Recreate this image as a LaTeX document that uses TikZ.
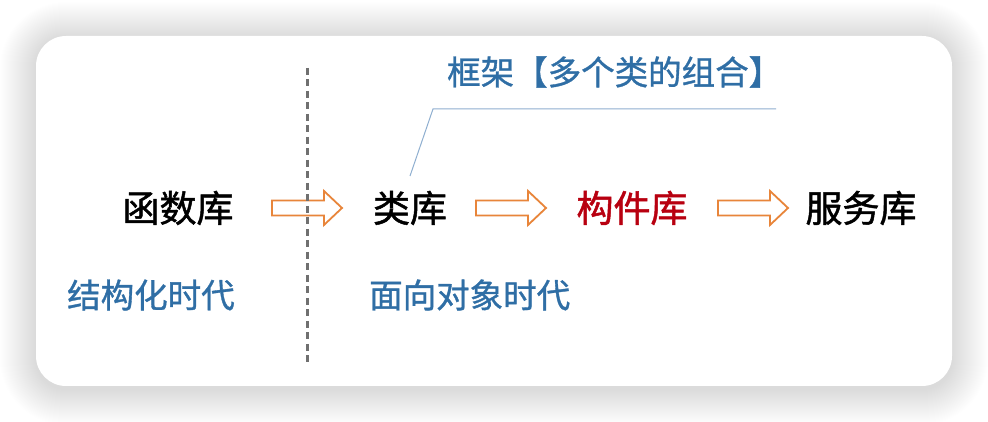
\documentclass[tikz,border=0pt]{standalone}
\usepackage{fontspec}
\newfontfamily\cjk[FakeBold=1.3]{Noto Sans CJK SC}
\newfontfamily\cjkb[FakeBold=1.0]{Noto Sans CJK SC}
\definecolor{txtblue}{HTML}{2F6EA5}
\definecolor{lineblue}{HTML}{8FAFD0}
\definecolor{arroworange}{HTML}{E8853A}
\definecolor{darkred}{HTML}{B80010}
\definecolor{dashgray}{HTML}{707070}
\tikzset{
  maintext/.style={font=\cjk\fontsize{37}{44}\selectfont, inner sep=0pt, text=black},
  bluetext/.style={font=\cjkb\fontsize{33.5}{40}\selectfont, inner sep=0pt, text=txtblue},
  arrowline/.style={draw=arroworange, line width=1.8pt, fill=white, line join=miter},
  blockarrow/.pic={\path[arrowline] (-35,-7.5) -- (17,-7.5) -- (17,-17) -- (35,0) -- (17,17) -- (17,7.5) -- (-35,7.5) -- cycle;}
}
\begin{document}
\begin{tikzpicture}[x=1pt,y=1pt]
\useasboundingbox (0,0) rectangle (988,422);
\fill[white] (0,0) rectangle (988,422);
% soft shadow
\foreach \i in {1,...,36}{
  \fill[black, opacity=0.0042, rounded corners=30+\i] (36-\i,36-\i-3) rectangle (952+\i,386+\i-2);
}
% card
\fill[white, rounded corners=30] (36,36) rectangle (952,386);

% dashed divider
\coordinate (dtop) at (307.5,354);
\coordinate (dbot) at (307.5,57);

% main row
\node[maintext] (fn) at (178,214) {函数库};
\node[maintext] (cls) at (410,214) {类库};
\node[maintext, text=darkred] (comp) at (632,214) {构件库};
\node[maintext] (svc) at (861,214) {服务库};

\coordinate (ar1) at (307,214);
\coordinate (ar2) at (511,214);
\coordinate (ar3) at (753,214);
\pic at (ar1) {blockarrow};
\pic at (ar2) {blockarrow};
\pic at (ar3) {blockarrow};
\draw[dashgray, line width=2.2pt, dash pattern=on 7pt off 4.5pt] (dtop) -- (dbot);

% framework label
\node[bluetext, anchor=west] (fw) at (447,350) {框架【多个类的组合】};
\coordinate (lend) at (776,313);
\coordinate (lbend) at (433,313);
\coordinate (lstart) at (410,246);
\draw[lineblue, line width=1pt] (lstart) -- (lbend) -- (lend);

% era labels
\node[bluetext, anchor=west] (era1) at (67,127) {结构化时代};
\node[bluetext, anchor=west] (era2) at (369,127) {面向对象时代};
\end{tikzpicture}
\end{document}
